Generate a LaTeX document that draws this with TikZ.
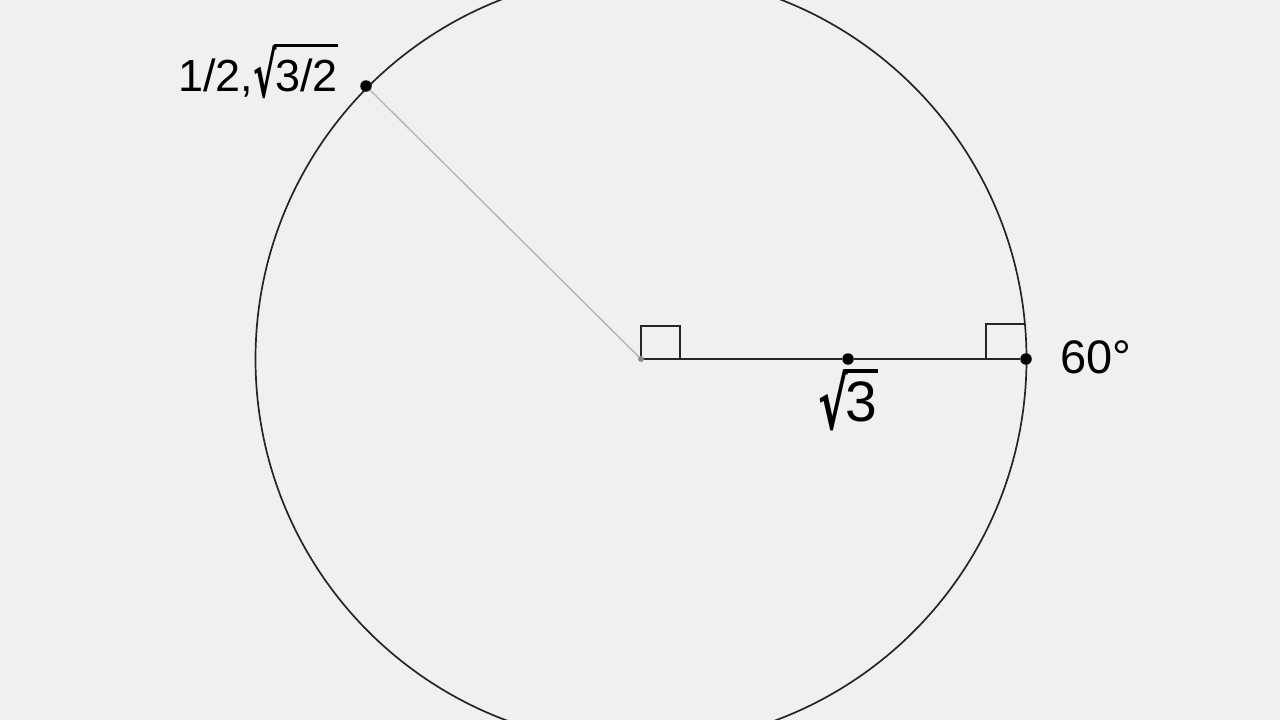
\documentclass[tikz,border=0pt]{standalone}
\usepackage{graphicx}
\usepackage{fontspec}
\setmainfont{Liberation Sans}
\newfontfamily\djv{DejaVu Sans}
% #1 gap between digits and bar, #2 radicand
\newcommand\myroot[2]{\raisebox{-0.14em}[\dimexpr0.716em+#1+0.06em\relax][0.14em]{\resizebox*{0.52em}{\dimexpr0.716em+#1+0.06em+0.14em\relax}{\djv\bfseries √}}\kern-0.06em\vbox{\hrule height 0.06em\kern#1\hbox{\kern0.02em#2}}}
\begin{document}
\begin{tikzpicture}[x=1pt,y=-1pt,
  lbl/.style={text=black, inner sep=0pt},
  dot/.style={circle, fill=black, inner sep=0pt, minimum size=11.5pt},
  ink/.style={draw=black!85, line width=1.7pt}]
\useasboundingbox (0,0) rectangle (1280,720);
\fill[black!6] (0,0) rectangle (1280,720);
\clip (0,0) rectangle (1280,720);
\coordinate (c) at (641,359);
\draw[ink] (c) circle [radius=385.5pt];
% gray radius
\node[dot] (p) at (366,86) {};
\draw[black!28, line width=1.5pt] (p) -- (c);
% horizontal radius
\node[dot] (r) at (1026,359) {};
\node[dot] (m) at (848,359) {};
\draw[ink] (c) -- (m) -- (r);
% right-angle squares
\draw[ink] (c) -- (641,326) -- (680,326) -- (680,359);
\draw[ink] (986,359) -- (986,324) -- (1024,324);
\node[circle, fill=black!45, inner sep=0pt, minimum size=6pt] (cd) at (c) {};
% labels
\node[lbl, font=\fontsize{45}{54}\selectfont] (lp) at (258,71) {1/2,\myroot{12pt}{3/2}};
\node[lbl, font=\fontsize{57}{66}\selectfont] (lm) at (848,399) {\myroot{9pt}{3}};
\node[lbl, font=\fontsize{47}{56}\selectfont] (lr) at (1096,357) {60°};
\end{tikzpicture}
\end{document}
